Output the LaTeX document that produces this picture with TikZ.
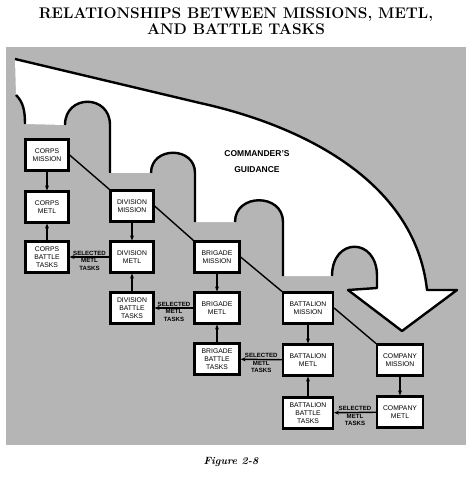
\documentclass[tikz,border=0pt]{standalone}
\usepackage{fontspec}
\setsansfont{Liberation Sans}
\usepackage{xcolor}
\usetikzlibrary{arrows.meta}
\definecolor{panelgray}{gray}{0.71}

\begin{document}
\begin{tikzpicture}[x=1pt, y=-1pt,
      box/.style={rectangle, draw, line width=2.2pt, fill=white, minimum width=43pt,
        minimum height=31pt, inner sep=1pt, align=center,
        font=\sffamily\fontsize{6.8}{8}\selectfont},
      lbl/.style={font=\sffamily\bfseries\fontsize{6.1}{7.3}\selectfont, align=center, inner sep=1pt},
      link/.style={line width=1.4pt},
      >={Stealth[length=5pt, width=4pt]}]
    \useasboundingbox (0,0) rectangle (474,478);
    \node[font=\bfseries\fontsize{15.4}{16}\selectfont, align=center] (title) at (236,21)
      {RELATIONSHIPS BETWEEN MISSIONS, METL,\\AND BATTLE TASKS};
    \fill[panelgray] (6,47) rectangle (466,445);
    % commander's guidance arrow
    \fill[white] (15,59) -- (200,103) .. controls (300,125) and (415,180) .. (427,290)
      -- (457,290) -- (402,331) -- (348,290) -- (377,288) -- (377,276)
      .. controls (377,237) and (332,237) .. (332,276) -- (283,276) -- (283,222)
      .. controls (283,193) and (235,193) .. (235,222) -- (195,222) -- (195,173)
      .. controls (195,146) and (151,146) .. (151,173) -- (110,173) -- (110,125)
      .. controls (110,94) and (65,94) .. (65,125) -- (25,124)
      .. controls (25,110) and (23,102) .. (16,95) -- cycle;
    \draw[line width=2.4pt, line join=round]
      (15,59) -- (200,103) .. controls (300,125) and (415,180) .. (427,290)
      -- (457,290) -- (402,331) -- (348,290) -- (377,288) -- (377,276)
      .. controls (377,237) and (332,237) .. (332,276)
      (283,276) -- (283,222) .. controls (283,193) and (235,193) .. (235,222)
      (195,222) -- (195,173) .. controls (195,146) and (151,146) .. (151,173)
      (110,173) -- (110,125) .. controls (110,94) and (65,94) .. (65,125)
      (25,124) .. controls (25,110) and (23,102) .. (16,95);
    \node[font=\sffamily\bfseries\fontsize{8.5}{16}\selectfont, align=center] (guide) at (257,162)
      {COMMANDER'S\\GUIDANCE};

    \node[box] (cm) at (47,155) {CORPS\\MISSION};
    \node[box] (cl) at (47,207) {CORPS\\METL};
    \node[box] (cb) at (47,257) {CORPS\\BATTLE\\TASKS};
    \node[box] (dm) at (132,206) {DIVISION\\MISSION};
    \node[box] (dl) at (132,257) {DIVISION\\METL};
    \node[box] (db) at (132,308) {DIVISION\\BATTLE\\TASKS};
    \node[box, minimum width=45pt] (bm) at (217,257) {BRIGADE\\MISSION};
    \node[box, minimum width=45pt] (bl) at (217,308) {BRIGADE\\METL};
    \node[box, minimum width=45pt] (bb) at (217,359) {BRIGADE\\BATTLE\\TASKS};
    \node[box, minimum width=50pt] (nm) at (308,308) {BATTALION\\MISSION};
    \node[box, minimum width=50pt] (nl) at (308,360) {BATTALION\\METL};
    \node[box, minimum width=50pt] (nb) at (308,413) {BATTALION\\BATTLE\\TASKS};
    \node[box, minimum width=46pt] (pm) at (400,360) {COMPANY\\MISSION};
    \node[box, minimum width=46pt] (pl) at (400,412) {COMPANY\\METL};

    \draw[link,->] (cm) -- (cl);
    \draw[link,->] (cb) -- (cl);
    \draw[link,->] (dm) -- (dl);
    \draw[link,->] (db) -- (dl);
    \draw[link,->] (bm) -- (bl);
    \draw[link,->] (bb) -- (bl);
    \draw[link,->] (nm) -- (nl);
    \draw[link,->] (nb) -- (nl);
    \draw[link,->] (pm) -- (pl);
    \draw[link] (cm.east) -- (dm.north west);
    \draw[link] (dm.east) -- (bm.north west);
    \draw[link] (bm.east) -- (nm.north west);
    \draw[link] (nm.east) -- (pm.north west);
    \draw[link,->] (dl) -- (cb)
      node[lbl, midway, above] {SELECTED} node[lbl, midway, below] {METL\\TASKS};
    \draw[link,->] (bl) -- (db)
      node[lbl, midway, above] {SELECTED} node[lbl, midway, below] {METL\\TASKS};
    \draw[link,->] (nl) -- (bb)
      node[lbl, midway, above] {SELECTED} node[lbl, midway, below] {METL\\TASKS};
    \draw[link,->] (pl) -- (nb)
      node[lbl, midway, above] {SELECTED} node[lbl, midway, below] {METL\\TASKS};

    \node[font=\bfseries\itshape\fontsize{10.5}{12}\selectfont] (caption) at (231,462) {Figure 2-8};
  \end{tikzpicture}
\end{document}
